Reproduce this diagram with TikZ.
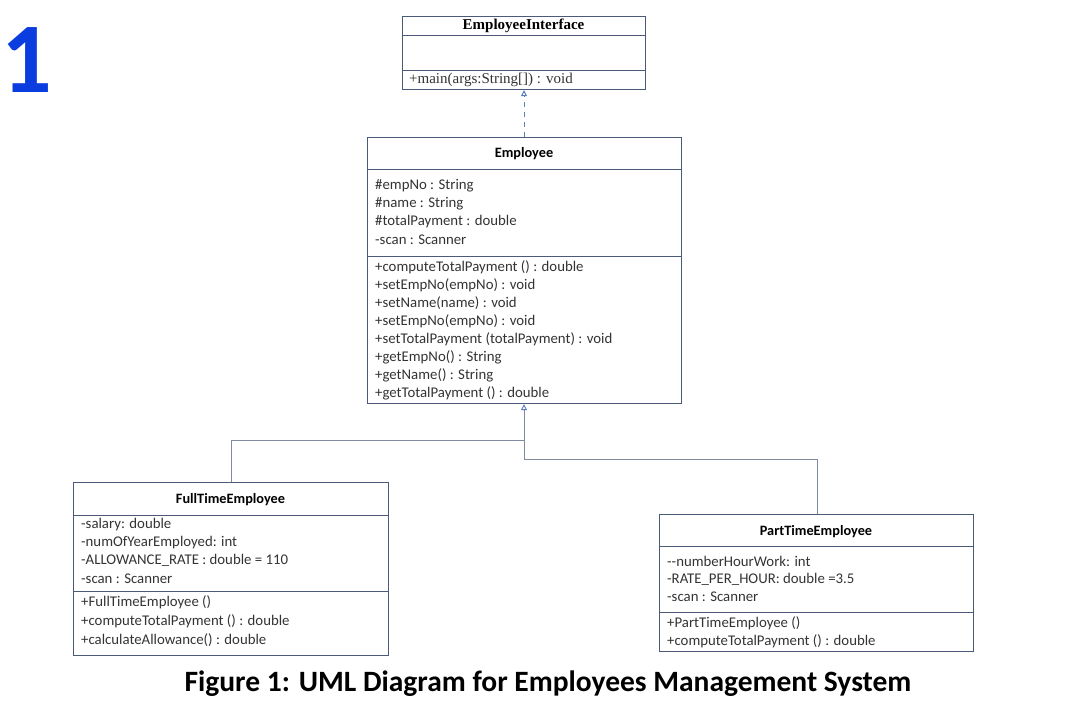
\documentclass[tikz,border=0pt]{standalone}
\usepackage{fontspec}
\setmainfont{Carlito}
\newfontfamily\serifF{Liberation Serif}
\usetikzlibrary{arrows.meta}
\definecolor{bline}{HTML}{4A5A78}
\definecolor{txt}{HTML}{333333}
\definecolor{arr}{HTML}{5B7FB8}
\definecolor{hand}{HTML}{0A3CE0}
\begin{document}
\begin{tikzpicture}[x=1pt,y=-1pt,
  box/.style={draw=bline,line width=1.1pt,anchor=north west,inner sep=0pt},
  t/.style={anchor=west,inner sep=0pt,font=\fontsize{14.8}{15}\selectfont,text=txt},
  st/.style={anchor=west,inner sep=0pt,font=\serifF\fontsize{15}{15}\selectfont,text=txt},
  hd/.style={inner sep=0pt,font=\bfseries\fontsize{14.3}{15}\selectfont,text=black},
  conn/.style={draw=bline!70,line width=0.9pt},
  gen/.style={-{Triangle[open,length=6pt,width=6pt]},arr}]
\useasboundingbox (0,0) rectangle (1066,711);
% Interface
\node[box,minimum width=243pt,minimum height=73pt] (ifc) at (402,16) {};
\draw[bline,line width=1pt] (402,36) -- (645,36) (402,71) -- (645,71);
\node[hd,font=\serifF\bfseries\fontsize{15}{15}\selectfont] (ifct) at (523.5,26) {EmployeeInterface};
\node[st] (ifm) at (409,80) {+main(args:String[]) : void};
% Employee
\node[box,minimum width=314pt,minimum height=266pt] (emp) at (367,137) {};
\draw[bline,line width=1pt] (367,170) -- (681,170) (367,257) -- (681,257);
\node[hd] (empt) at (524,154) {Employee};
\foreach \s [count=\i] in {\#empNo : String,\#name : String,\#totalPayment : double,-scan : Scanner}
  \node[t] (ea\i) at (375,168+18*\i) {\s};
\foreach \s [count=\i] in {+computeTotalPayment () : double,+setEmpNo(empNo) : void,+setName(name) : void,+setEmpNo(empNo) : void,+setTotalPayment (totalPayment) : void,+getEmpNo() : String,+getName() : String,+getTotalPayment () : double}
  \node[t] (em\i) at (375,249+18.1*\i) {\s};
% FullTime
\node[box,minimum width=315pt,minimum height=173pt] (ft) at (73,482) {};
\draw[bline,line width=1pt] (73,515) -- (388,515) (73,591) -- (388,591);
\node[hd] (ftt) at (230.5,500) {FullTimeEmployee};
\foreach \s [count=\i] in {-salary: double,-numOfYearEmployed: int,-ALLOWANCE\_RATE : double = 110,-scan : Scanner}
  \node[t] (fa\i) at (81,506+18.2*\i) {\s};
\foreach \s [count=\i] in {+FullTimeEmployee (),+computeTotalPayment () : double,+calculateAllowance() : double}
  \node[t] (fm\i) at (81,583+19*\i) {\s};
% PartTime
\node[box,minimum width=314pt,minimum height=137pt] (pt) at (659,514) {};
\draw[bline,line width=1pt] (659,546) -- (973,546) (659,612) -- (973,612);
\node[hd] (ptt) at (816,532) {PartTimeEmployee};
\foreach \s [count=\i] in {{-}{-}numberHourWork: int,-RATE\_PER\_HOUR: double =3.5,-scan : Scanner}
  \node[t] (pa\i) at (667,543+18*\i) {\s};
\foreach \s [count=\i] in {+PartTimeEmployee (),+computeTotalPayment () : double}
  \node[t] (pm\i) at (667,605+18*\i) {\s};
% connectors
\coordinate (c1) at (231,440);
\coordinate (c2) at (817,459);
\draw[conn] (ft.north -| c1) -- (c1) -- (524,440);
\draw[conn] (pt.north -| c2) -- (c2) -- (524,459);
\draw[conn] (524,459) -- (524,409);
\draw[conn,gen] (524,410) -- (emp.south -| 524,0);
\draw[arr,line width=1pt,dash pattern=on 5pt off 5pt,-{Triangle[open,length=6pt,width=6pt]}] (emp.north -| ifc.south) -- (ifc.south);
% caption
\node[inner sep=0pt,font=\bfseries\fontsize{29.5}{32}\selectfont] (cap) at (548,684) {Figure 1: UML Diagram for Employees Management System};
\node[inner sep=0pt,font=\bfseries\fontsize{100}{100}\selectfont,text=hand] (one) at (27,60) {1};
\end{tikzpicture}
\end{document}
